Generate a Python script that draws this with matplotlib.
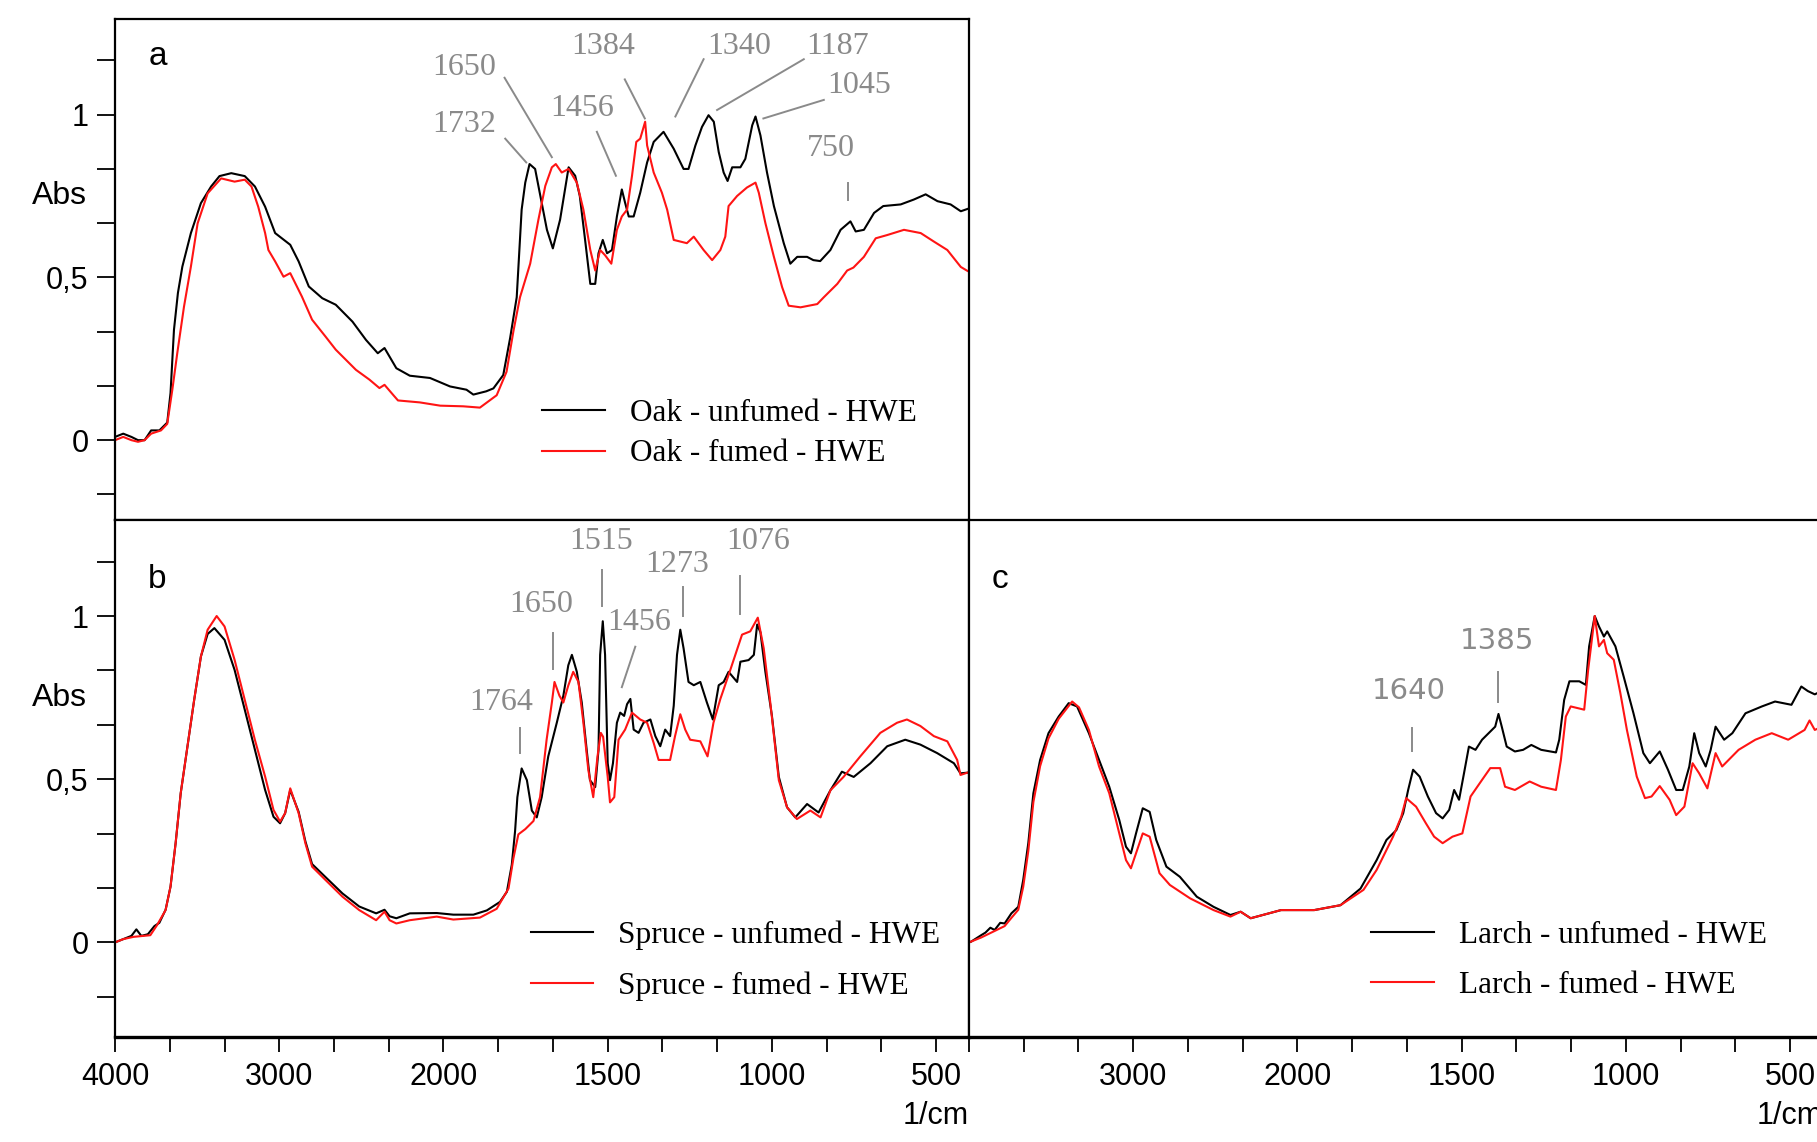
import matplotlib
matplotlib.use("Agg")
import matplotlib.pyplot as plt
import numpy as np
from matplotlib.ticker import FixedLocator, NullLocator

plt.rcParams["font.family"] = ["Liberation Sans", "DejaVu Sans"]
plt.rcParams["font.size"] = 22
plt.rcParams["axes.linewidth"] = 1.6

C_UNF = "#000000"
C_FUM = "#ff1414"
C_NOTE = "#8a8a8a"
SERIF = ["Liberation Serif", "DejaVu Serif"]

# ---- data: wavenumber (1/cm) and absorbance ----
OAK_UNF_WN = [4000, 3950, 3900, 3860, 3820, 3780, 3730, 3682, 3662, 3641, 3617, 3590, 3538,
              3477, 3415, 3364, 3292, 3210, 3148, 3086, 3025, 2933, 2882, 2820, 2738, 2656,
              2554, 2472, 2400, 2359, 2287, 2205, 2082, 1980, 1930, 1909, 1870, 1848, 1818,
              1797, 1777, 1762, 1751, 1738, 1721, 1701, 1685, 1667, 1645, 1619, 1599, 1585,
              1570, 1553, 1538, 1528, 1515, 1502, 1487, 1472, 1457, 1447, 1436, 1421, 1401,
              1380, 1360, 1330, 1299, 1269, 1254, 1233, 1213, 1193, 1177, 1162, 1147, 1135,
              1121, 1096, 1081, 1060, 1050, 1035, 1015, 994, 964, 944, 923, 893, 874, 853,
              822, 791, 761, 745, 720, 689, 661, 608, 568, 532, 496, 456, 425, 405]
OAK_UNF_A = [0.01, 0.02, 0.01, 0.0, 0.0, 0.03, 0.03, 0.054, 0.145, 0.339, 0.452, 0.533, 0.636,
             0.728, 0.779, 0.811, 0.820, 0.811, 0.779, 0.717, 0.636, 0.600, 0.549, 0.472, 0.436,
             0.416, 0.364, 0.308, 0.267, 0.283, 0.221, 0.198, 0.191, 0.165, 0.155, 0.14, 0.15,
             0.159, 0.2, 0.314, 0.439, 0.708, 0.791, 0.848, 0.833, 0.729, 0.646, 0.589, 0.677,
             0.838, 0.812, 0.75, 0.625, 0.48, 0.48, 0.574, 0.615, 0.574, 0.584, 0.687, 0.77,
             0.729, 0.687, 0.687, 0.76, 0.853, 0.916, 0.947, 0.895, 0.833, 0.833, 0.905, 0.962,
             0.998, 0.978, 0.885, 0.822, 0.796, 0.838, 0.838, 0.864, 0.967, 0.994, 0.936, 0.822,
             0.719, 0.605, 0.542, 0.563, 0.563, 0.553, 0.55, 0.584, 0.646, 0.672, 0.641, 0.646,
             0.698, 0.719, 0.724, 0.739, 0.755, 0.734, 0.724, 0.703, 0.71]

OAK_FUM_WN = [4000, 3950, 3900, 3860, 3820, 3780, 3720, 3682, 3651, 3621, 3580, 3538, 3497,
              3436, 3354, 3272, 3210, 3169, 3128, 3086, 3066, 3025, 2974, 2933, 2862, 2800,
              2718, 2656, 2533, 2451, 2390, 2359, 2308, 2277, 2144, 2020, 1940, 1889, 1838,
              1808, 1787, 1767, 1736, 1711, 1690, 1670, 1658, 1640, 1619, 1594, 1574, 1553,
              1538, 1523, 1508, 1489, 1472, 1457, 1441, 1426, 1413, 1401, 1386, 1380, 1360,
              1335, 1319, 1299, 1259, 1238, 1208, 1182, 1157, 1142, 1132, 1106, 1076, 1050,
              1040, 1020, 994, 969, 949, 913, 862, 842, 801, 771, 752, 720, 684, 649, 598, 547,
              507, 466, 425, 405]
OAK_FUM_A = [0.0, 0.01, 0.0, -0.005, 0.0, 0.02, 0.03, 0.05, 0.155, 0.267, 0.41, 0.533, 0.666,
             0.758, 0.804, 0.794, 0.80, 0.779, 0.717, 0.636, 0.584, 0.549, 0.502, 0.513, 0.441,
             0.370, 0.318, 0.278, 0.216, 0.186, 0.160, 0.170, 0.140, 0.122, 0.116, 0.106, 0.104,
             0.10, 0.138, 0.21, 0.335, 0.439, 0.542, 0.677, 0.781, 0.838, 0.848, 0.822, 0.833,
             0.791, 0.708, 0.584, 0.521, 0.584, 0.568, 0.542, 0.646, 0.687, 0.708, 0.812, 0.916,
             0.926, 0.978, 0.905, 0.822, 0.76, 0.708, 0.615, 0.605, 0.625, 0.584, 0.553, 0.584,
             0.625, 0.719, 0.75, 0.776, 0.791, 0.76, 0.667, 0.563, 0.47, 0.413, 0.408, 0.418,
             0.439, 0.48, 0.521, 0.53, 0.563, 0.62, 0.63, 0.646, 0.636, 0.61, 0.584, 0.532, 0.52]

SPRUCE_UNF_WN = [4000, 3950, 3900, 3870, 3840, 3800, 3760, 3730, 3692, 3662, 3631, 3600, 3559,
                 3518, 3477, 3436, 3395, 3333, 3272, 3210, 3148, 3086, 3035, 2995, 2964, 2933,
                 2882, 2841, 2800, 2718, 2615, 2513, 2410, 2359, 2328, 2287, 2205, 2041, 1970,
                 1909, 1868, 1828, 1807, 1792, 1782, 1775, 1762, 1746, 1731, 1716, 1701, 1681,
                 1655, 1635, 1620, 1609, 1594, 1579, 1564, 1554, 1538, 1528, 1523, 1515, 1508,
                 1500, 1493, 1484, 1472, 1462, 1450, 1441, 1431, 1421, 1406, 1391, 1370, 1355,
                 1340, 1325, 1310, 1299, 1289, 1279, 1269, 1254, 1238, 1218, 1198, 1180, 1162,
                 1147, 1132, 1106, 1096, 1071, 1055, 1045, 1035, 1020, 1000, 979, 954, 929, 893,
                 858, 822, 787, 751, 700, 649, 594, 548, 497, 446, 426, 405]
SPRUCE_UNF_A = [0.0, 0.01, 0.02, 0.04, 0.02, 0.025, 0.05, 0.06, 0.10, 0.171, 0.304, 0.457, 0.6,
                0.743, 0.876, 0.945, 0.963, 0.927, 0.835, 0.713, 0.59, 0.467, 0.385, 0.365,
                0.396, 0.467, 0.40, 0.31, 0.24, 0.20, 0.15, 0.11, 0.089, 0.10, 0.08, 0.074, 0.089,
                0.09, 0.085, 0.085, 0.098, 0.124, 0.155, 0.238, 0.341, 0.445, 0.533, 0.497, 0.404,
                0.383, 0.445, 0.57, 0.673, 0.756, 0.849, 0.881, 0.829, 0.735, 0.59, 0.497, 0.476,
                0.59, 0.881, 0.984, 0.881, 0.549, 0.497, 0.549, 0.673, 0.704, 0.694, 0.73, 0.746,
                0.652, 0.642, 0.673, 0.683, 0.632, 0.601, 0.652, 0.632, 0.725, 0.881, 0.958, 0.901,
                0.798, 0.788, 0.798, 0.735, 0.683, 0.788, 0.798, 0.829, 0.798, 0.86, 0.865, 0.881,
                0.974, 0.95, 0.829, 0.694, 0.507, 0.414, 0.383, 0.424, 0.398, 0.466, 0.523, 0.507,
                0.549, 0.601, 0.621, 0.606, 0.58, 0.549, 0.518, 0.52]

SPRUCE_FUM_WN = [4000, 3950, 3887, 3785, 3744, 3692, 3662, 3631, 3600, 3559, 3518, 3477, 3436,
                 3381, 3333, 3272, 3210, 3148, 3086, 3035, 2995, 2964, 2933, 2882, 2841, 2800,
                 2718, 2615, 2513, 2410, 2359, 2328, 2287, 2205, 2041, 1970, 1889, 1838, 1802,
                 1787, 1772, 1751, 1726, 1706, 1686, 1670, 1662, 1647, 1635, 1620, 1605, 1589,
                 1574, 1559, 1544, 1531, 1521, 1514, 1500, 1493, 1480, 1467, 1447, 1426, 1401,
                 1380, 1360, 1345, 1310, 1295, 1279, 1264, 1249, 1218, 1196, 1178, 1157, 1127,
                 1091, 1066, 1043, 1025, 1005, 979, 954, 924, 883, 852, 822, 782, 731, 670, 619,
                 589, 548, 507, 466, 436, 426, 405]
SPRUCE_FUM_A = [0.0, 0.01, 0.017, 0.022, 0.053, 0.099, 0.171, 0.304, 0.457, 0.6, 0.743, 0.876,
                0.958, 1.0, 0.968, 0.866, 0.743, 0.62, 0.508, 0.406, 0.37, 0.396, 0.472, 0.396,
                0.304, 0.232, 0.191, 0.14, 0.099, 0.068, 0.094, 0.068, 0.058, 0.068, 0.079, 0.07,
                0.076, 0.103, 0.165, 0.258, 0.331, 0.347, 0.372, 0.445, 0.621, 0.735, 0.798, 0.756,
                0.735, 0.787, 0.829, 0.798, 0.673, 0.528, 0.445, 0.57, 0.642, 0.63, 0.507, 0.429,
                0.445, 0.621, 0.652, 0.704, 0.683, 0.673, 0.611, 0.559, 0.559, 0.632, 0.699, 0.652,
                0.621, 0.616, 0.57, 0.673, 0.746, 0.834, 0.943, 0.953, 0.995, 0.901, 0.735, 0.497,
                0.414, 0.378, 0.404, 0.383, 0.466, 0.507, 0.57, 0.642, 0.673, 0.683, 0.663, 0.632,
                0.616, 0.559, 0.513, 0.52]

LARCH_UNF_WN = [4000, 3988, 3926, 3900, 3870, 3844, 3810, 3783, 3742, 3700, 3670, 3639, 3608,
                3567, 3516, 3454, 3393, 3342, 3270, 3208, 3146, 3085, 3044, 3014, 2983, 2942,
                2900, 2860, 2798, 2716, 2613, 2511, 2408, 2346, 2285, 2100, 1949, 1869, 1808,
                1759, 1729, 1699, 1678, 1663, 1648, 1628, 1603, 1578, 1558, 1538, 1523, 1508,
                1493, 1478, 1458, 1438, 1418, 1398, 1388, 1378, 1363, 1338, 1313, 1288, 1258,
                1213, 1203, 1188, 1172, 1142, 1122, 1112, 1095, 1082, 1067, 1057, 1032, 1007,
                977, 947, 927, 897, 872, 847, 827, 807, 792, 777, 757, 742, 727, 701, 676, 636,
                586, 546, 496, 466, 446, 425, 405]
LARCH_UNF_A = [0.0, 0.002, 0.022, 0.03, 0.045, 0.038, 0.06, 0.058, 0.089, 0.109, 0.191, 0.304,
               0.457, 0.559, 0.641, 0.692, 0.733, 0.723, 0.641, 0.559, 0.477, 0.375, 0.293, 0.273,
               0.334, 0.411, 0.40, 0.314, 0.232, 0.201, 0.14, 0.109, 0.084, 0.094, 0.074, 0.099,
               0.099, 0.114, 0.165, 0.252, 0.314, 0.344, 0.396, 0.467, 0.529, 0.508, 0.447, 0.396,
               0.38, 0.406, 0.467, 0.437, 0.518, 0.6, 0.59, 0.621, 0.641, 0.661, 0.70, 0.661, 0.6,
               0.585, 0.59, 0.605, 0.59, 0.582, 0.621, 0.743, 0.8, 0.8, 0.789, 0.907, 1.0, 0.968,
               0.937, 0.953, 0.907, 0.815, 0.702, 0.58, 0.549, 0.585, 0.529, 0.467, 0.467, 0.539,
               0.641, 0.58, 0.539, 0.59, 0.661, 0.621, 0.641, 0.702, 0.723, 0.738, 0.728, 0.784,
               0.77, 0.76, 0.77]

LARCH_FUM_WN = [4000, 3926, 3844, 3783, 3742, 3700, 3670, 3639, 3608, 3567, 3516, 3454, 3372,
                3330, 3270, 3208, 3146, 3085, 3044, 3014, 2983, 2942, 2900, 2840, 2777, 2654,
                2511, 2408, 2346, 2285, 2100, 1949, 1869, 1799, 1759, 1709, 1684, 1669, 1639,
                1609, 1584, 1558, 1528, 1498, 1473, 1438, 1413, 1383, 1368, 1338, 1293, 1258,
                1213, 1198, 1183, 1168, 1127, 1115, 1105, 1095, 1082, 1067, 1057, 1037, 1017, 997,
                967, 942, 922, 897, 867, 847, 822, 797, 777, 752, 727, 707, 657, 606, 556, 506,
                456, 441, 425, 405]
LARCH_FUM_A = [0.0, 0.015, 0.035, 0.05, 0.075, 0.10, 0.17, 0.28, 0.43, 0.54, 0.625, 0.685,
               0.738, 0.72, 0.651, 0.539, 0.457, 0.334, 0.252, 0.227, 0.273, 0.334, 0.324, 0.212,
               0.176, 0.135, 0.099, 0.079, 0.094, 0.074, 0.099, 0.099, 0.114, 0.161, 0.222, 0.324,
               0.385, 0.442, 0.416, 0.365, 0.324, 0.304, 0.324, 0.334, 0.447, 0.498, 0.534, 0.534,
               0.477, 0.467, 0.493, 0.477, 0.467, 0.559, 0.692, 0.723, 0.713, 0.835, 0.917, 1.0,
               0.907, 0.927, 0.886, 0.866, 0.764, 0.651, 0.508, 0.442, 0.447, 0.479, 0.437, 0.39,
               0.416, 0.549, 0.518, 0.472, 0.58, 0.539, 0.59, 0.621, 0.641, 0.621, 0.651, 0.68,
               0.651, 0.66]

PEAKS_A = ["1732", "1650", "1456", "1384", "1340", "1187", "1045", "750"]
PEAKS_B = ["1764", "1650", "1515", "1456", "1273", "1076"]
PEAKS_C = ["1640", "1385"]

LEGEND_A = ["Oak - unfumed - HWE", "Oak - fumed - HWE"]
LEGEND_B = ["Spruce - unfumed - HWE", "Spruce - fumed - HWE"]
LEGEND_C = ["Larch - unfumed - HWE", "Larch - fumed - HWE"]

X_MAJOR = [4000, 3000, 2000, 1500, 1000, 500]
X_MINOR = [3666.7, 3333.3, 2666.7, 2333.3, 1833.3, 1666.7, 1333.3, 1166.7, 833.3, 666.7]
Y_MAJOR = [0, 0.5, 1]
Y_LABELS = ["0", "0,5", "1"]
Y_MINOR = [-1 / 6, 1 / 6, 2 / 6, 4 / 6, 5 / 6, 7 / 6]

# label placement: (text wn, text abs, line wn1, abs1, wn2, abs2)
NOTE_POS_A = [(1938, 0.968, 1812, 0.926, 1748, 0.853),
              (1938, 1.146, 1814, 1.113, 1670, 0.869),
              (1579, 1.020, 1533, 0.947, 1475, 0.812),
              (1515, 1.210, 1448, 1.108, 1387, 0.988),
              (1101, 1.210, 1208, 1.170, 1294, 0.994),
              (799, 1.210, 903, 1.170, 1167, 1.014),
              (734, 1.090, 842, 1.045, 1026, 0.988),
              (822, 0.897, 768, 0.791, 768, 0.739)]
NOTE_POS_B = [(1823, 0.734, 1767, 0.658, 1767, 0.580),
              (1701, 1.035, 1668, 0.948, 1668, 0.839),
              (1521, 1.228, 1518, 1.140, 1518, 1.031),
              (1405, 0.979, 1416, 0.906, 1457, 0.782),
              (1288, 1.157, 1271, 1.088, 1271, 1.000),
              (1043, 1.228, 1096, 1.124, 1096, 1.005)]
NOTE_POS_C = [(1662, 0.771, 1650, 0.656, 1650, 0.585),
              (1393, 0.924, 1388, 0.830, 1388, 0.738)]


def _fwd(w):
    w = np.asarray(w, dtype=float)
    return np.where(w >= 2000, w / 1000.0, w / 500.0 - 2.0)


def _inv(u):
    u = np.asarray(u, dtype=float)
    return np.where(u >= 2, u * 1000.0, (u + 2.0) * 500.0)


def _setup(ax, ylim, xlabels, ylabels, hide_first=False):
    ax.set_xscale("function", functions=(_fwd, _inv))
    ax.set_xlim(4000, 400)
    ax.set_ylim(*ylim)
    ax.xaxis.set_major_locator(FixedLocator(X_MAJOR))
    ax.xaxis.set_minor_locator(FixedLocator(X_MINOR))
    labs = [str(v) for v in X_MAJOR]
    if hide_first:
        labs[0] = ""
    ax.set_xticklabels(labs)
    ax.tick_params(axis="x", which="both", direction="out", length=11, width=1.3,
                   pad=7, labelsize=22, bottom=xlabels, labelbottom=xlabels, top=False)
    if ylabels:
        ax.yaxis.set_major_locator(FixedLocator(Y_MAJOR))
        ax.yaxis.set_minor_locator(FixedLocator(Y_MINOR))
        ax.set_yticklabels(Y_LABELS)
        ax.tick_params(axis="y", which="both", direction="out", length=13, width=1.3,
                       pad=6, labelsize=22, right=False)
    else:
        ax.yaxis.set_major_locator(NullLocator())
        ax.yaxis.set_minor_locator(NullLocator())
    ax.spines["bottom"].set_linewidth(2.4 if xlabels else 1.6)


def _curves(ax, wn_u, a_u, wn_f, a_f, labels, leg_xy, spacing):
    h1, = ax.plot(wn_u, a_u, color=C_UNF, lw=1.5)
    h2, = ax.plot(wn_f, a_f, color=C_FUM, lw=1.5)
    ax.legend([h1, h2], labels, loc="upper left", bbox_to_anchor=leg_xy,
              frameon=False, borderpad=0, borderaxespad=0, handlelength=2.0,
              handletextpad=0.8, labelspacing=spacing,
              prop={"family": SERIF, "size": 22.5})


def _notes(ax, labels, pos, family, size):
    for lab, (tw, ta, w1, a1, w2, a2) in zip(labels, pos):
        ax.plot([w1, w2], [a1, a2], color=C_NOTE, lw=1.4)
        ax.text(tw, ta, lab, ha="center", va="center", fontsize=size,
                color=C_NOTE, family=family)


def draw():
    fig = plt.figure(figsize=(18.17, 11.42), dpi=100)
    ax_a = fig.add_axes([0.0633, 0.5447, 0.470, 0.4391])
    ax_b = fig.add_axes([0.0633, 0.0919, 0.470, 0.4527])
    ax_c = fig.add_axes([0.5333, 0.0919, 0.470, 0.4527])

    _setup(ax_a, (-0.245, 1.295), False, True)
    _setup(ax_b, (-0.29, 1.294), True, True)
    _setup(ax_c, (-0.29, 1.294), True, False, hide_first=True)

    _curves(ax_a, OAK_UNF_WN, OAK_UNF_A, OAK_FUM_WN, OAK_FUM_A, LEGEND_A,
            (0.50, 0.242), 0.38)
    _curves(ax_b, SPRUCE_UNF_WN, SPRUCE_UNF_A, SPRUCE_FUM_WN, SPRUCE_FUM_A, LEGEND_B,
            (0.487, 0.225), 0.68)
    _curves(ax_c, LARCH_UNF_WN, LARCH_UNF_A, LARCH_FUM_WN, LARCH_FUM_A, LEGEND_C,
            (0.471, 0.225), 0.68)

    _notes(ax_a, PEAKS_A, NOTE_POS_A, SERIF, 23)
    _notes(ax_b, PEAKS_B, NOTE_POS_B, SERIF, 23)
    _notes(ax_c, PEAKS_C, NOTE_POS_C, ["DejaVu Sans"], 21)

    for ax, lab, x, y in [(ax_a, "a", 0.039, 0.925), (ax_b, "b", 0.039, 0.886),
                          (ax_c, "c", 0.026, 0.886)]:
        ax.text(x, y, lab, transform=ax.transAxes, fontsize=24, ha="left", va="center")

    for ax in (ax_a, ax_b):
        ax.text(-0.097, 0.75, "Abs", transform=ax.get_yaxis_transform(),
                fontsize=23, ha="left", va="center")
    for ax in (ax_b, ax_c):
        ax.text(1.0, -0.153, "1/cm", transform=ax.transAxes, fontsize=22,
                ha="right", va="center")

    fig.savefig("out.png", dpi=100)
    plt.close(fig)


if __name__ == "__main__":
    draw()
